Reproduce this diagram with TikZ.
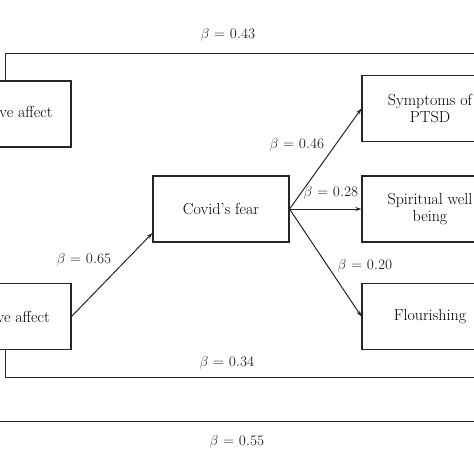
\documentclass[tikz,border=0pt]{standalone}
\usepackage{amsmath}
\usepackage{xcolor}
\usetikzlibrary{arrows.meta}
\usetikzlibrary{calc}
\usetikzlibrary{positioning}

\begin{document}
\begin{tikzpicture}[x=1pt,y=-1pt]

% Define styles
\tikzset{
    box/.style={draw=black!85, line width=1.1pt, rectangle, minimum width=132pt, minimum height=66pt, inner sep=0pt, align=center, font=\fontsize{16}{17}\selectfont},
    path/.style={line width=1pt, draw=black!85},
    arrow/.style={path, -{Stealth[length=6pt,width=4pt]}},
    coef/.style={font=\fontsize{14.5}{15}\selectfont, text=black!85, inner sep=1pt}
}

% frame of the picture
\useasboundingbox (0,0) rectangle (474,474);
\clip (0,0) rectangle (474,474);

% affect boxes (left)
\node[box] (neg) at (5,114) {Negative affect};
\node[box] (pos) at (5,316.5) {Positive affect};

% mediator
\node[box, minimum width=136pt] (fear) at (221,209) {Covid's fear};

% outcome boxes (right)
\node[box, minimum width=136pt] (ptsd) at (430,108.5) {Symptoms of\\PTSD};
\node[box, minimum width=136pt] (spirit) at (430,209) {Spiritual well\\being};
\node[box, minimum width=136pt] (flour) at (430,316.5) {Flourishing};

% ends of the long paths
\coordinate (topR) at (480,53);
\coordinate (midR) at (480,377);
\coordinate (lowL) at (-6,421);
\coordinate (lowR) at (480,421);

% paths
\draw[arrow] (pos.east) -- ([yshift=-24pt]fear.west);
\draw[arrow] (fear.east) -- (ptsd.west);
\draw[arrow] (fear.east) -- (spirit.west);
\draw[arrow] (fear.east) -- (flour.west);
\draw[path] (neg.north) |- (topR);
\draw[path] (pos.south) |- (midR);
\draw[path] (lowL) -- (lowR);

% coefficients
\node[coef] at (228,35) {$\beta$ = 0.43};
\node[coef] at (297,145) {$\beta$ = 0.46};
\node[coef] at (331,193) {$\beta$ = 0.28};
\node[coef] at (365,266) {$\beta$ = 0.20};
\node[coef] at (84,260) {$\beta$ = 0.65};
\node[coef] at (227,363) {$\beta$ = 0.34};
\node[coef] at (237,442) {$\beta$ = 0.55};

\end{tikzpicture}
\end{document}
